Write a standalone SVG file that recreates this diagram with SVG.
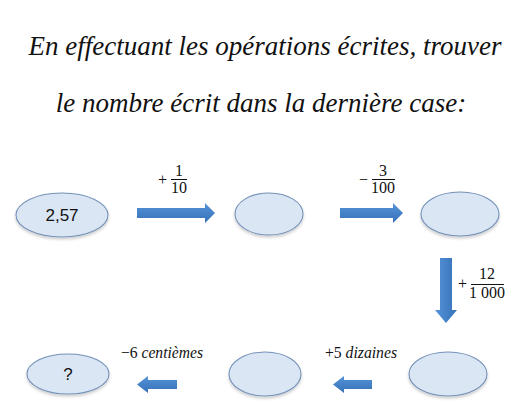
<svg xmlns="http://www.w3.org/2000/svg" width="525" height="413" viewBox="0 0 525 413">
<defs>
<linearGradient id="gh" x1="0" y1="0" x2="0" y2="1">
<stop offset="0" stop-color="#5593d8"/>
<stop offset="1" stop-color="#3671b8"/>
</linearGradient>
<linearGradient id="gv" x1="0" y1="0" x2="1" y2="0">
<stop offset="0" stop-color="#5593d8"/>
<stop offset="1" stop-color="#3671b8"/>
</linearGradient>
<filter id="sh" x="-20%" y="-20%" width="140%" height="150%">
<feDropShadow dx="0" dy="2" stdDeviation="1.5" flood-color="#000" flood-opacity="0.2"/>
</filter>
</defs>
<style>
.title{font-family:"Liberation Serif","Times New Roman",serif;font-style:italic;font-size:27px;fill:#111;text-anchor:middle}
.node{fill:#dbe6f4;stroke:#7592b8;stroke-width:1.1;filter:url(#sh)}
.val{font-family:"Liberation Sans",Arial,sans-serif;font-size:17px;fill:#111;text-anchor:middle}
.m{font-family:"Liberation Serif","DejaVu Serif",serif;font-size:16px;fill:#111}
.mi{font-style:italic}
.bar{stroke:#111;stroke-width:1}
.ah{fill:url(#gh)}
.av{fill:url(#gv)}
</style>
<rect width="525" height="413" fill="#fff"/>
<g id="title">
<text class="title" x="265" y="55">En effectuant les opérations écrites, trouver</text>
<text class="title" x="261" y="112">le nombre écrit dans la dernière case:</text>
</g>
<g id="n1"><ellipse class="node" cx="62" cy="215" rx="46" ry="22"/><text class="val" x="62" y="221">2,57</text></g>
<g id="n2"><ellipse class="node" cx="269" cy="214" rx="34" ry="21"/></g>
<g id="n3"><ellipse class="node" cx="460" cy="214" rx="39" ry="22"/></g>
<g id="n4"><ellipse class="node" cx="448" cy="374" rx="39" ry="22"/></g>
<g id="n5"><ellipse class="node" cx="265" cy="374" rx="36" ry="22"/></g>
<g id="n6"><ellipse class="node" cx="68" cy="374" rx="41" ry="20"/><text class="val" x="68" y="380">?</text></g>
<g id="connectors">
<polygon class="ah" points="137,208 205,208 205,203 215,213 205,223 205,218 137,218"/>
<polygon class="ah" points="340,208 393,208 393,203 403,213 393,223 393,218 340,218"/>
<polygon class="av" points="440,258 452,258 452,310 457,310 446,323 435,310 440,310"/>
<polygon class="ah" points="372,380 344,380 344,376 333,384.5 344,393 344,389 372,389"/>
<polygon class="ah" points="177,380 148,380 148,376 137,384.5 148,393 148,389 177,389"/>
</g>
<g id="labels">
<text class="m" x="158" y="185">+</text>
<text class="m" x="179" y="176" text-anchor="middle">1</text>
<line class="bar" x1="171" y1="179.5" x2="187" y2="179.5"/>
<text class="m" x="179" y="193" text-anchor="middle">10</text>
<text class="m" x="359" y="185">−</text>
<text class="m" x="383" y="176" text-anchor="middle">3</text>
<line class="bar" x1="372" y1="179.5" x2="395" y2="179.5"/>
<text class="m" x="383" y="193" text-anchor="middle">100</text>
<text class="m" x="458" y="289">+</text>
<text class="m" x="487" y="279" text-anchor="middle">12</text>
<line class="bar" x1="471" y1="284.5" x2="504" y2="284.5"/>
<text class="m" x="487" y="298" text-anchor="middle">1 000</text>
<text class="m" x="325" y="358" textLength="72" lengthAdjust="spacingAndGlyphs">+5 <tspan class="mi">dizaines</tspan></text>
<text class="m" x="121" y="358" textLength="82" lengthAdjust="spacingAndGlyphs">−6 <tspan class="mi">centièmes</tspan></text>
</g>
</svg>
